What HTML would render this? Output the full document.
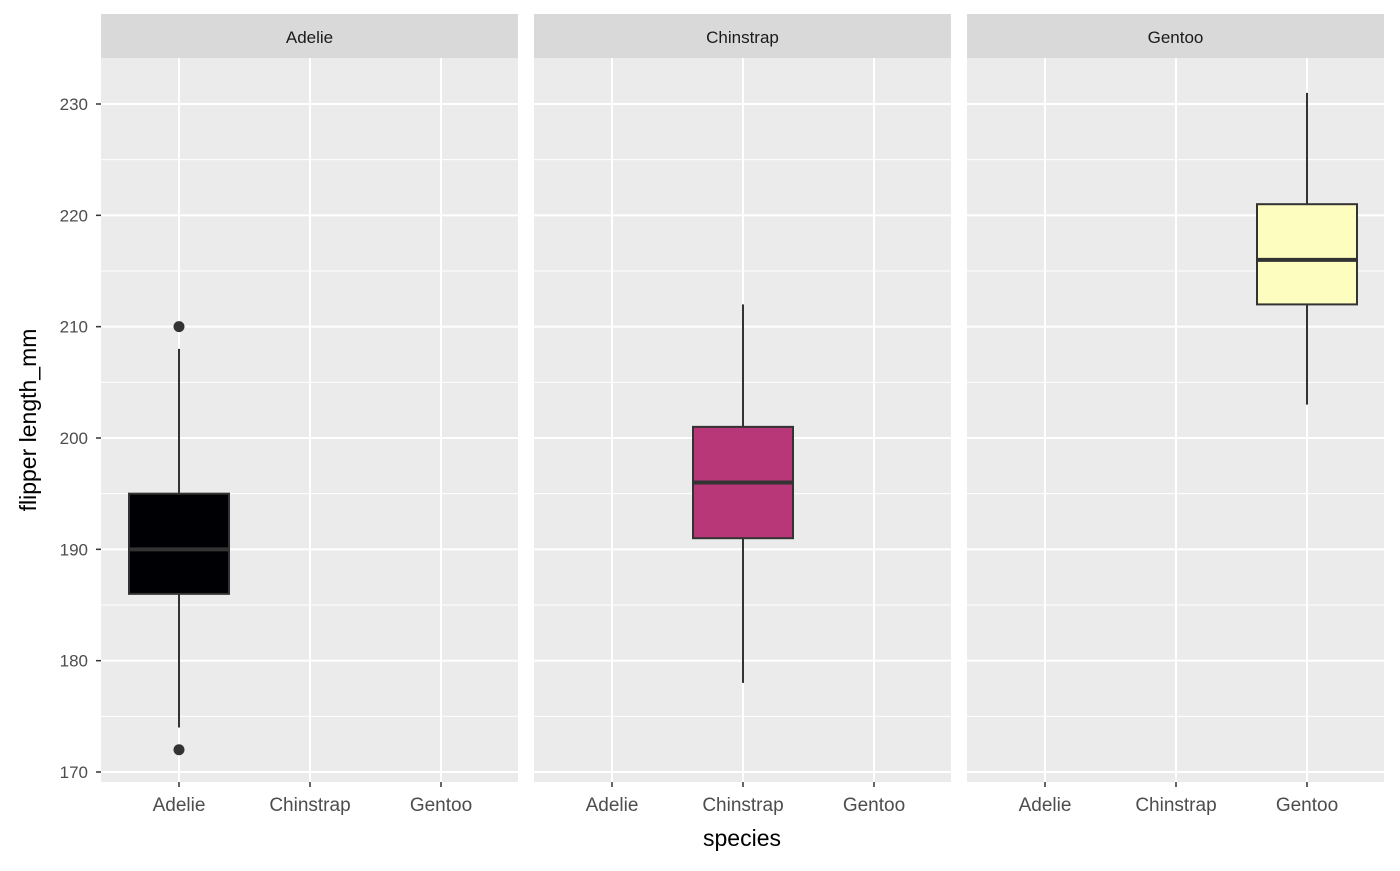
<!DOCTYPE html>
<html><head><meta charset="utf-8"><style>
body{margin:0;background:#fff;}
text{font-family:"Liberation Sans",Arial,sans-serif;}
</style></head><body>
<svg id="chart" width="1400" height="866" xmlns="http://www.w3.org/2000/svg"></svg>
<script>
const panels = ["Adelie","Chinstrap","Gentoo"];
const categories = ["Adelie","Chinstrap","Gentoo"];
const q1 = [186,191,212];
const medians = [190,196,216];
const q3 = [195,201,221];
const whiskerLow = [174,178,203];
const whiskerHigh = [208,212,231];
const outliers = [[210,172],[],[]];
const fills = ["#000004","#b73779","#fcfdbf"];
const yTicks = [170,180,190,200,210,220,230];
const yMinor = [175,185,195,205,215,225];

const NS="http://www.w3.org/2000/svg";
const svg=document.getElementById('chart');
function el(tag,attrs,parent){const e=document.createElementNS(NS,tag);for(const k in attrs)e.setAttribute(k,attrs[k]);(parent||svg).appendChild(e);return e;}
const panelLeft=[101,534,967], panelW=417, plotTop=58, plotBottom=782, stripTop=14;
function y(v){return 772-(v-170)*(668/60);}
function x(p,i){return panelLeft[p]+78+i*131;}

panels.forEach((name,p)=>{
  const g=el('g',{});
  
  
  const strip=el('rect',{x:panelLeft[p],y:stripTop,width:panelW,height:plotTop-stripTop,fill:'#d9d9d9'},g);
  
  
  const st=el('text',{x:panelLeft[p]+panelW/2,y:43,'text-anchor':'middle','font-size':'17',fill:'#1a1a1a'},g);
  st.textContent=name;
  
  
  const bg=el('rect',{x:panelLeft[p],y:plotTop,width:panelW,height:plotBottom-plotTop,fill:'#ebebeb'},g);
  
  
  yMinor.forEach(v=>{const l=el('line',{x1:panelLeft[p],x2:panelLeft[p]+panelW,y1:y(v),y2:y(v),stroke:'#fff','stroke-width':1},g);
    });
  yTicks.forEach(v=>{const l=el('line',{x1:panelLeft[p],x2:panelLeft[p]+panelW,y1:y(v),y2:y(v),stroke:'#fff','stroke-width':2},g);
    });
  categories.forEach((c,i)=>{
    const l=el('line',{x1:x(p,i),x2:x(p,i),y1:plotTop,y2:plotBottom,stroke:'#fff','stroke-width':2},g);
    
    const tk=el('line',{x1:x(p,i),x2:x(p,i),y1:plotBottom,y2:plotBottom+5,stroke:'#333','stroke-width':1.5},g);
    
    const t=el('text',{x:x(p,i),y:811,'text-anchor':'middle','font-size':'19',fill:'#4d4d4d'},g);
    t.textContent=c;
  });
  const i=p, cx=x(p,i), hw=50;
  const b=el('g',{},g);
  
  
  el('line',{x1:cx,x2:cx,y1:y(whiskerHigh[i]),y2:y(q3[i]),stroke:'#333','stroke-width':2},b);
  el('line',{x1:cx,x2:cx,y1:y(q1[i]),y2:y(whiskerLow[i]),stroke:'#333','stroke-width':2},b);
  el('rect',{x:cx-hw,y:y(q3[i]),width:2*hw,height:y(q1[i])-y(q3[i]),fill:fills[i],stroke:'#333','stroke-width':2},b);
  el('line',{x1:cx-hw,x2:cx+hw,y1:y(medians[i]),y2:y(medians[i]),stroke:'#333','stroke-width':4},b);
  outliers[i].forEach(v=>{const c=el('circle',{cx:cx,cy:y(v),r:5.5,fill:'#333'},b);
    });
});
yTicks.forEach(v=>{
  const t=el('text',{x:88,y:y(v)+6,'text-anchor':'end','font-size':'17',fill:'#4d4d4d'});
  t.textContent=v;
  const tk=el('line',{x1:96,x2:101,y1:y(v),y2:y(v),stroke:'#333','stroke-width':1.5});
  
});
const xt=el('text',{x:742,y:846,'text-anchor':'middle','font-size':'23',fill:'#000'});
xt.textContent='species';
const yt=el('text',{x:0,y:0,'text-anchor':'middle','font-size':'23',fill:'#000',transform:'translate(36,420) rotate(-90)'});
yt.textContent='flipper length_mm';
</script>
</body></html>
